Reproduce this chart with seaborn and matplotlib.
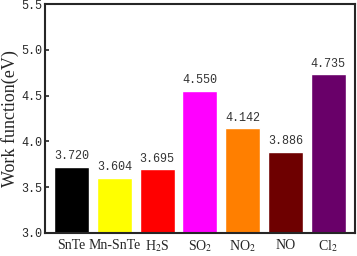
import matplotlib
matplotlib.use("Agg")
import matplotlib.pyplot as plt
import seaborn as sns
import pandas as pd

# ===== Data =====
labels = ["SnTe", "Mn-SnTe", "H$_2$S", "SO$_2$", "NO$_2$", "NO", "Cl$_2$"]
values = [3.720, 3.604, 3.695, 4.550, 4.142, 3.886, 4.735]
colors = ["#000000", "#FFFF00", "#FF0000", "#FF00FF", "#FF7F00", "#6E0000", "#690069"]
yticks = [3.0, 3.5, 4.0, 4.5, 5.0, 5.5]

df = pd.DataFrame({"material": labels, "wf": values})

sns.set_style("ticks")
plt.rcParams["font.family"] = ["Liberation Serif", "DejaVu Serif"]
plt.rcParams["mathtext.fontset"] = "stix"
mono = ["Liberation Mono", "DejaVu Sans Mono"]

fig = plt.figure(figsize=(3.57, 2.56), dpi=100)
ax = fig.add_axes([0.126, 0.09, 0.868, 0.894])

sns.barplot(data=df, x="material", y="wf", hue="material", palette=colors,
            legend=False, width=0.82, ax=ax, saturation=1)

# value labels on top of bars
for i, v in enumerate(values):
    ax.text(i, v + 0.05, f"{v:.3f}", ha="center", va="bottom", fontsize=8.5,
            family=mono, color="#333333")

ax.set_ylim(3.0, 5.5)
ax.set_xlim(-0.62, 6.62)
ax.set_yticks(yticks)
ax.set_yticklabels([f"{t:.1f}" for t in yticks], fontsize=8.5, family=mono)
ax.tick_params(axis="y", direction="in", length=3, width=1.2, pad=2)
ax.tick_params(axis="x", length=0, labelsize=10, pad=4)
ax.set_xlabel("")
ax.set_ylabel("Work function(eV)", fontsize=13)
ax.yaxis.set_label_coords(-0.085, 0.5)
for s in ax.spines.values():
    s.set_visible(True)
    s.set_linewidth(1.5)

fig.savefig("out.png", dpi=100)
